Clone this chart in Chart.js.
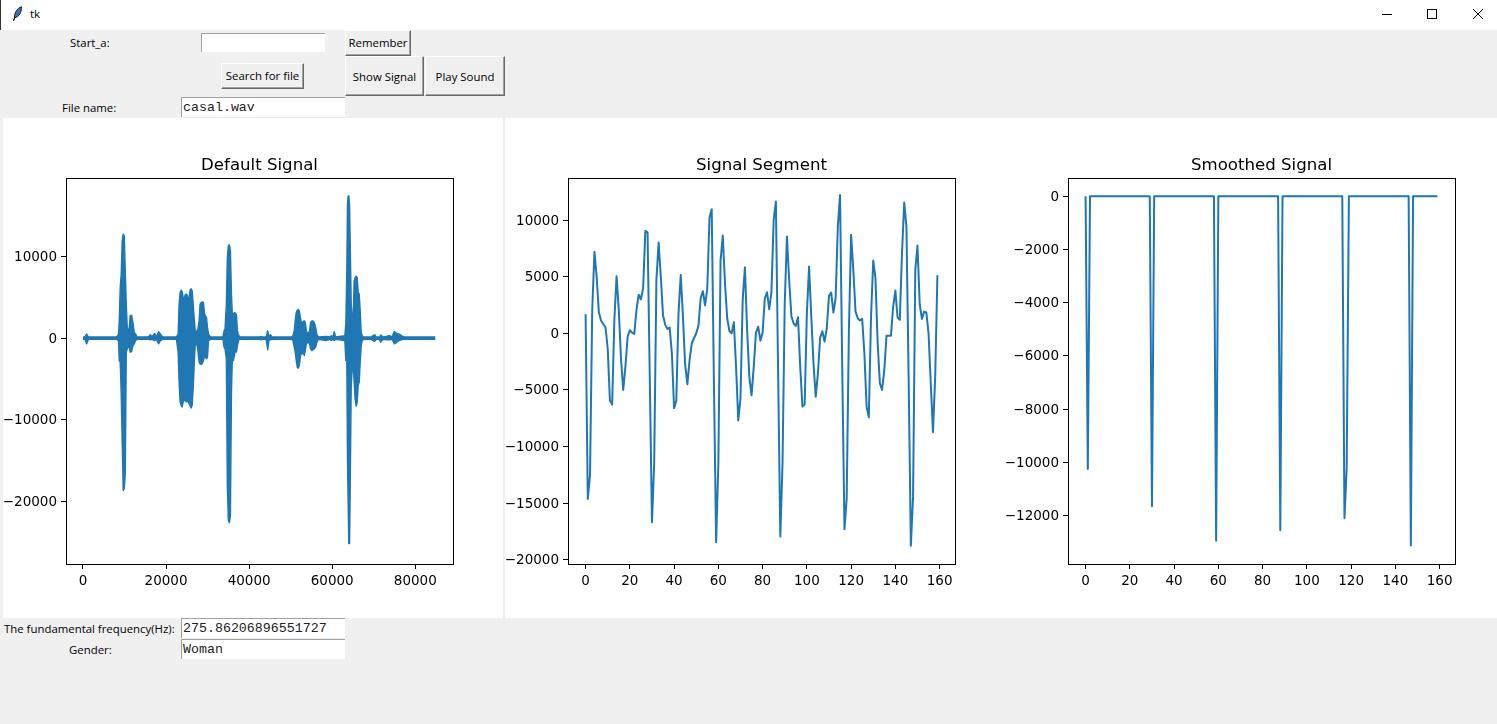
<!DOCTYPE html>
<html>
<head>
<meta charset="utf-8">
<title>tk</title>
<script src="https://cdn.jsdelivr.net/npm/chart.js@4/dist/chart.umd.js"></script>
<style>
html, body { margin: 0; padding: 0; background: #f0f0f0; overflow: hidden; }
body { width: 1497px; height: 724px; position: relative; font-family: 'Open Sans', 'Noto Sans', sans-serif; font-size: 11.4px; color: #000; }
.abs { position: absolute; }
#titlebar { left: 0; top: 0; width: 1497px; height: 30px; background: #fff; }
#edge { left: 0; top: 0; width: 1px; height: 30px; background: #333; }
.lbl { position: absolute; white-space: nowrap; line-height: 16px; }
.entry { position: absolute; background: #fff; box-sizing: border-box; border-top: 1px solid #a0a0a0; border-left: 1px solid #a0a0a0; font-family: 'Liberation Mono', monospace; font-size: 13.3px; line-height: 19px; padding-left: 1px; white-space: pre; color: #222; }
.btn { position: absolute; box-sizing: border-box; background: #f0f0f0; border: 1px solid; border-color: #fff #696969 #696969 #fff; box-shadow: inset -1px -1px 0 #a0a0a0; text-align: center; white-space: nowrap; }
.panel { position: absolute; top: 118px; height: 500px; background: #fff; }
canvas { position: absolute; top: 118px; }
</style>
</head>
<body>
<div class="abs" id="titlebar"></div>
<div class="abs" id="edge"></div>
<svg class="abs" style="left:12px;top:6px" width="11" height="16" viewBox="0 0 11 16"><path d="M9.5 .8C5.5 2 2.6 6 2.5 11L1.6 14.8 3 11.6C7 11 9.8 6 9.5 .8Z" fill="#3f6fb0" stroke="#111" stroke-width=".9"/></svg>
<div class="lbl" style="left:30px;top:6px;font-size:11.5px">tk</div>
<svg class="abs" style="left:1380px;top:4px" width="110" height="20" fill="none" stroke="#000" stroke-width="1"><path d="M2 10.5H12"/><rect x="47.5" y="5.5" width="9" height="9"/><path d="M93 5L103 15M103 5L93 15"/></svg>

<div class="lbl" style="left:70px;top:35px">Start_a:</div>
<div class="entry" style="left:201px;top:33px;width:124px;height:19px"></div>
<div class="btn" style="left:345px;top:30px;width:66px;height:26px;line-height:24px">Remember</div>
<div class="btn" style="left:221px;top:63px;width:83px;height:26px;line-height:24px">Search for file</div>
<div class="btn" style="left:345px;top:56px;width:79px;height:40px;line-height:39px">Show Signal</div>
<div class="btn" style="left:425px;top:56px;width:80px;height:40px;line-height:39px">Play Sound</div>
<div class="lbl" style="left:62px;top:100px">File name:</div>
<div class="entry" style="left:181px;top:97px;width:164px;height:20px">casal.wav</div>

<div class="panel" style="left:3px;width:500px"></div>
<div class="panel" style="left:505px;width:992px"></div>
<canvas id="chSignal" width="500" height="500" style="left:3px"></canvas>
<canvas id="chSegment" width="495" height="500" style="left:505px"></canvas>
<canvas id="chSmooth" width="492" height="500" style="left:1005px"></canvas>

<div class="lbl" style="left:4px;top:621px">The fundamental frequency(Hz):</div>
<div class="entry" style="left:181px;top:618px;width:164px;height:20px">275.86206896551727</div>
<div class="lbl" style="left:69px;top:642px">Gender:</div>
<div class="entry" style="left:181px;top:639px;width:164px;height:20px">Woman</div>

<script>
'use strict';
// Envelope of the full recording (too many samples to read one by one): position, upper and lower extent.
const signalX = [0,480,880,1280,8090,8570,8730,8970,9210,9450,9690,9930,10170,10410,10650,11050,11370,11690,12020,12340,12660,12980,15700,16260,16580,17220,17700,18180,18660,19140,22510,22910,23150,23390,23630,23870,24110,24350,24590,24830,25070,25310,25550,25790,26030,26270,26510,26750,26990,27310,27630,27960,28200,28440,28760,29000,29240,29480,29720,29960,30200,30680,33720,33960,34200,34520,34760,35000,35240,35480,35730,35970,36210,36450,36690,36930,37170,37490,37810,42530,42850,43170,44130,44460,44780,45180,45500,50220,50540,50860,51100,51340,51580,51820,52070,52310,52550,52790,53030,53270,53510,53750,54150,54550,54790,55110,55350,55670,55990,56310,56630,58550,59510,59750,60150,60480,60800,63040,63280,63520,63680,63840,64000,64160,64320,64560,64800,65040,65280,65520,65760,66000,66240,66480,66720,66960,67200,67530,69450,69770,70250,70570,71370,71690,72170,72970,73770,74410,74970,75530,76170,76970,77460,84820];
const signalHi = [150,150,490,150,150,490,1910,6180,7800,11870,12700,12480,8210,4150,1300,690,2720,2800,1910,690,490,150,150,410,150,570,150,770,490,150,150,490,4150,5570,5850,5690,4960,4760,5280,5370,5280,4760,4960,5850,6020,5770,4150,2520,1100,690,980,2110,4150,4350,4430,4350,2930,2720,2520,1300,490,150,150,890,1100,4150,9840,11260,11400,10650,5370,2520,2930,3130,3050,2850,890,285,150,150,200,150,150,890,150,410,150,150,285,890,2110,3130,3410,3500,3330,2520,1910,1910,2030,2110,1910,890,490,890,1910,2110,2110,1910,1300,410,150,200,150,285,150,770,150,285,1710,8210,16340,17380,17240,16340,11460,4150,2520,2110,6990,7400,7560,7400,5570,5370,3330,690,285,150,150,285,410,150,150,370,150,200,285,150,810,570,490,200,150,150];
const signalLo = [-150,-150,-690,-150,-150,-285,-2720,-2930,-6790,-12680,-18600,-18370,-16540,-1710,-1300,-890,-1710,-1630,-890,-690,-285,-150,-150,-200,-150,-285,-150,-690,-285,-150,-150,-1710,-5370,-7800,-8210,-8410,-7800,-7600,-7400,-7800,-7400,-7800,-8010,-8290,-8540,-8210,-6180,-3330,-890,-490,-1300,-2930,-3130,-3210,-3050,-2720,-2110,-2320,-2520,-2320,-285,-150,-150,-1100,-1300,-2520,-17970,-22240,-22540,-21630,-6590,-1910,-2720,-2110,-1300,-1710,-890,-200,-150,-150,-200,-150,-150,-1420,-150,-200,-150,-150,-285,-1100,-1710,-2720,-3540,-3660,-3330,-2320,-1710,-1910,-1710,-2110,-1500,-690,-490,-690,-1300,-1500,-1420,-1300,-1100,-490,-150,-285,-150,-285,-150,-285,-150,-285,-2720,-2720,-14720,-20000,-25100,-25100,-17970,-5770,-3740,-2930,-5370,-7400,-8290,-7800,-5770,-5370,-2930,-890,-285,-150,-150,-285,-370,-150,-150,-490,-150,-200,-200,-150,-690,-490,-285,-150,-150,-150];

const segmentValues = [
  1680,-14640,-12500,2060,7200,5000,1830,1120,800,530,
  -1330,-5950,-6300,1180,5030,2060,-2200,-5000,-2950,-300,
  265,60,-60,2060,3400,3000,3970,9040,8920,-3830,
  -16700,-11500,4700,8010,5000,1560,740,380,500,-1770,
  -6630,-5950,1770,5150,1470,-2800,-4500,-2350,-880,-440,
  0,650,3090,3710,2470,3970,10220,10950,-4420,-18460,
  -11500,6420,8630,4420,1325,200,0,970,-2950,-7700,
  -5740,2950,5830,300,-3800,-5480,-2950,60,590,-650,
  60,3090,3620,2120,3680,10010,11630,-3240,-17960,-11490,
  2650,8540,4710,1530,880,650,1410,-2950,-6480,-6300,
  1770,5890,1470,-2650,-5600,-3530,-380,180,-740,440,
  3300,3590,1830,3090,9420,12220,-3240,-17320,-14580,290,
  8690,5600,1910,1330,1120,1270,-1770,-6480,-7420,1470,
  6420,4860,-880,-4420,-5010,-3240,-210,-210,-210,2360,
  3770,1380,1180,7070,11540,9420,-4000,-18760,-14430,5600,
  7750,2560,1270,1910,1830,0,-4420,-8750,-3830,5120
];

const smoothValues = [
  0,-10250,0,0,0,0,0,0,0,0,
  0,0,0,0,0,0,0,0,0,0,
  0,0,0,0,0,0,0,0,0,0,
  -11650,0,0,0,0,0,0,0,0,0,
  0,0,0,0,0,0,0,0,0,0,
  0,0,0,0,0,0,0,0,0,-12950,
  0,0,0,0,0,0,0,0,0,0,
  0,0,0,0,0,0,0,0,0,0,
  0,0,0,0,0,0,0,0,-12550,0,
  0,0,0,0,0,0,0,0,0,0,
  0,0,0,0,0,0,0,0,0,0,
  0,0,0,0,0,0,0,-12100,-10200,0,
  0,0,0,0,0,0,0,0,0,0,
  0,0,0,0,0,0,0,0,0,0,
  0,0,0,0,0,0,0,-13130,0,0,
  0,0,0,0,0,0,0,0,0,0
];

const signalXTicks = [0, 20000, 40000, 60000, 80000];
const signalYTicks = [10000, 0, -10000, -20000];
const segmentXTicks = [0, 20, 40, 60, 80, 100, 120, 140, 160];
const segmentYTicks = [10000, 5000, 0, -5000, -10000, -15000, -20000];
const smoothYTicks = [0, -2000, -4000, -6000, -8000, -10000, -12000];

const BLUE = '#1f77b4';
const fmt = v => String(v).replace('-', '\u2212');
const frame = { id: 'frame', afterDraw(c) {
  const a = c.chartArea, x = c.ctx;
  x.save(); x.strokeStyle = '#000'; x.lineWidth = 1;
  x.strokeRect(Math.round(a.left) + .5, Math.round(a.top) + .5, Math.round(a.width), Math.round(a.height));
  x.restore();
} };

function axis(range, ticks, fitKey, fitSize, labelOffset) {
  return {
    type: 'linear', min: range[0], max: range[1],
    afterBuildTicks: s => { s.ticks = ticks.map(v => ({ value: v })); },
    afterFit: s => { s[fitKey] = fitSize; },
    grid: { display: true, drawOnChartArea: false, drawTicks: true, tickLength: 5, tickColor: '#000', tickWidth: 1 },
    border: { display: false },
    ticks: { callback: fmt, color: '#000', padding: 4, labelOffset, maxRotation: 0, autoSkip: false, font: { family: 'DejaVu Sans', size: 13.5 } },
  };
}

function mk(id, title, datasets, cfg) {
  new Chart(document.getElementById(id).getContext('2d'), {
    type: 'line',
    data: { datasets },
    plugins: [frame],
    options: {
      responsive: false, animation: false, devicePixelRatio: 1, parsing: false, normalized: true,
      layout: { padding: { right: cfg.right, left: 0, top: 0, bottom: 0 } },
      elements: { point: { radius: 0 }, line: { tension: 0, borderColor: BLUE, borderWidth: 2, borderJoinStyle: 'round' } },
      plugins: {
        legend: { display: false }, tooltip: { enabled: false },
        title: { display: true, text: title, color: '#000', fullSize: false, padding: { top: 37.5, bottom: 2.5 }, font: { family: 'DejaVu Sans', size: 16.6, weight: 'normal' } },
      },
      scales: {
        x: axis(cfg.xRange, cfg.xTicks, 'height', 54, 0),
        y: axis(cfg.yRange, cfg.yTicks, 'width', cfg.yWidth, 1),
      },
    },
  });
}

const pts = (xs, ys) => ys.map((y, i) => ({ x: xs ? xs[i] : i, y }));

mk('chSignal', 'Default Signal', [
  { data: pts(signalX, signalHi), borderColor: BLUE, borderWidth: 1.5, backgroundColor: BLUE, fill: '+1' },
  { data: pts(signalX, signalLo), borderColor: BLUE, borderWidth: 1.5, fill: false },
], { xRange: [-4090, 89070], yRange: [-27600, 19580], xTicks: signalXTicks, yTicks: signalYTicks, yWidth: 63, right: 50 });

mk('chSegment', 'Signal Segment', [
  { data: pts(null, segmentValues), borderColor: BLUE, fill: false },
], { xRange: [-7.95, 166.95], yRange: [-20380, 13720], xTicks: segmentXTicks, yTicks: segmentYTicks, yWidth: 63, right: 45 });

mk('chSmooth', 'Smoothed Signal', [
  { data: pts(null, smoothValues), borderColor: BLUE, fill: false },
], { xRange: [-7.95, 166.95], yRange: [-13823, 688], xTicks: segmentXTicks, yTicks: smoothYTicks, yWidth: 63, right: 42 });
</script>
</body>
</html>
